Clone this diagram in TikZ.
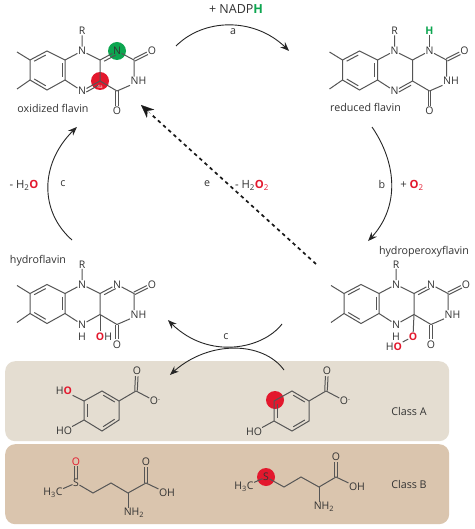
\documentclass[tikz,border=0pt]{standalone}
\usepackage{fontspec}
\setmainfont{Open Sans}
\usetikzlibrary{calc,arrows.meta,bending}
\definecolor{bondc}{HTML}{555555}
\definecolor{txtc}{HTML}{333333}
\definecolor{redc}{HTML}{E3182D}
\definecolor{greenc}{HTML}{0DA650}
\definecolor{panA}{HTML}{E4DDD1}
\definecolor{panB}{HTML}{DAC5AE}
\tikzset{
  x=1pt,y=-1pt,
  bond/.style={draw=bondc,line width=1pt},
  atom/.style={inner sep=0.4pt,font=\fontsize{10.5}{11}\selectfont,text=txtc},
  lbl/.style={inner sep=0pt,font=\fontsize{10.7}{12}\selectfont,text=txtc},
  biglbl/.style={inner sep=0pt,font=\fontsize{12.5}{14}\selectfont,text=txtc},
  midlbl/.style={inner sep=0pt,font=\fontsize{11.3}{13}\selectfont,text=txtc},
  cyc/.style={draw=black!85,line width=0.9pt,-{Stealth[length=9pt,width=7pt,bend]}},
  spot/.style={circle,minimum size=18pt,inner sep=0pt},
  panel/.style={rounded corners=10pt,draw=none}
}
\newcommand{\dbl}[3]{\draw[bond] ($(#1)!.16!(#2)!#3pt!90:(#2)$) -- ($(#1)!.84!(#2)!#3pt!90:(#2)$);}
\newcommand{\cdbl}[2]{\draw[bond] ($(#1)!.02!(#2)!1.3pt!90:(#2)$) -- ($(#1)!.74!(#2)!1.3pt!90:(#2)$);\draw[bond] ($(#1)!.02!(#2)!-1.3pt!90:(#2)$) -- ($(#1)!.74!(#2)!-1.3pt!90:(#2)$);}
\newcommand{\minussup}{\raisebox{3.5pt}{\fontsize{6}{6}\selectfont -}}
% common skeleton of the flavin ring system
\newcommand{\flavinbase}{
  \coordinate (m1) at (17,52); \coordinate (m2) at (17,89);
  \coordinate (a1) at (30,60); \coordinate (a2) at (47,51); \coordinate (a3) at (65,60);
  \coordinate (a4) at (65,80); \coordinate (a5) at (47,90); \coordinate (a6) at (30,80);
  \coordinate (c10a) at (100,60); \coordinate (c4a) at (100,81);
  \coordinate (c2) at (134,60); \coordinate (c4) at (117,91);
  \node[atom] (n10) at (82,51) {N};
  \node[atom] (r) at (82,31) {R};
  \node[atom] (n1) at (117,51) {N};
  \node[atom] (n5) at (82,91) {N};
  \node[atom,anchor=west] (n3) at (130,81) {NH};
  \node[atom] (o2) at (152,51) {O};
  \node[atom] (o4) at (117,111) {O};
  \draw[bond] (a1)--(a2)--(a3)--(a4)--(a5)--(a6)--cycle (m1)--(a1) (m2)--(a6);
  \draw[bond] (a3)--(n10)--(c10a)--(c4a) (a4)--(n5)--(c4a)--(c4);
  \draw[bond] (r)--(n10) (c10a)--(n1)--(c2)--(c2|-n3.north);
  \draw[bond] (c4)--(n3.south west);
  \dbl{a1}{a2}{-3}\dbl{a5}{a6}{-3}\dbl{a3}{a4}{-3}
  \cdbl{c2}{o2}\cdbl{c4}{o4}
}
\begin{document}
\begin{tikzpicture}
\useasboundingbox (0,0) rectangle (474,529);
\fill[white] (0,0) rectangle (474,529);
% panels
\node[panel,fill=panA,minimum width=444pt,minimum height=80pt,anchor=north west] (panela) at (5,361) {};
\node[panel,fill=panB,minimum width=444pt,minimum height=80pt,anchor=north west] (panelb) at (5,444) {};

% oxidized flavin
\begin{scope}[name prefix=ox-]
  \node[spot,fill=greenc] (gs) at (117,51) {};
  \node[spot,fill=redc] (rs) at (100,81) {};
  \flavinbase
  \dbl{c10a}{n1}{-3}
  \dbl{n5}{c4a}{-3}
  \node[inner sep=0pt,text=white,font=\fontsize{4.5}{5}\selectfont] (l4a) at (100,87) {4a};
  \node[lbl] (name) at (53,108) {oxidized flavin};
\end{scope}

% reduced flavin
\begin{scope}[name prefix=rd-,shift={(312.5,0)}]
  \flavinbase
  \dbl{n5}{c4a}{-3}
  \node[atom,text=greenc,font=\fontsize{10.5}{11}\selectfont\bfseries] (h) at (117,31) {H};
  \draw[bond] (h)--(n1);
  \node[lbl] (name) at (53,107) {reduced flavin};
\end{scope}

% hydroflavin
\begin{scope}[name prefix=hf-,shift={(0,233.5)}]
  \flavinbase
  \dbl{c10a}{n1}{-3}
  \node[atom] (h5) at (82,103) {H};
  \node[atom,inner sep=0.3pt] (oh) at (104,103) {\textcolor{redc}{\bfseries O}H};
  \draw[bond] (c4a)--(100,97);
  \node[lbl] (name) at (38,27.5) {hydroflavin};
\end{scope}

% hydroperoxyflavin
\begin{scope}[name prefix=hp-,shift={(314,233.5)}]
  \flavinbase
  \dbl{c10a}{n1}{-3}
  \node[atom] (h5) at (82,103) {H};
  \node[atom,text=redc,font=\fontsize{10.5}{11}\selectfont\bfseries] (o1) at (99,103) {O};
  \node[atom] (ho) at (80,113) {H\textcolor{redc}{\bfseries O}};
  \draw[bond] (c4a)--(o1);
  \draw[bond] (o1)--(ho.north east);
  \node[lbl] (name) at (110,18.5) {hydroperoxyflavin};
\end{scope}

% class A substrates
\begin{scope}[name prefix=sa-]
  \coordinate (r1) at (84,401); \coordinate (r2) at (102,391); \coordinate (r3) at (119,401);
  \coordinate (r4) at (119,420); \coordinate (r5) at (102,431); \coordinate (r6) at (84,420);
  \coordinate (cc) at (136,391);
  \node[atom] (o1) at (137,371) {O};
  \node[atom] (o2) at (155,401) {O\minussup};
  \node[atom] (ho1) at (64,391) {H\textcolor{redc}{\bfseries O}};
  \node[atom] (ho2) at (64,431) {HO};
  \draw[bond] (r1)--(r2)--(r3)--(r4)--(r5)--(r6)--cycle (r3)--(cc)--(o2);
  \draw[bond] (r1)--(ho1) (r6)--(ho2);
  \cdbl{cc}{o1}
  \dbl{r1}{r6}{3}\dbl{r2}{r3}{-3}\dbl{r4}{r5}{-3}
\end{scope}
\begin{scope}[name prefix=sb-]
  \node[spot,fill=redc] (rs) at (275,400) {};
  \coordinate (r1) at (274,401); \coordinate (r2) at (292,391); \coordinate (r3) at (309,401);
  \coordinate (r4) at (309,421); \coordinate (r5) at (292,431); \coordinate (r6) at (274,421);
  \coordinate (cc) at (326,391);
  \node[atom] (o1) at (327,371) {O};
  \node[atom] (o2) at (345,401) {O\minussup};
  \node[atom] (ho2) at (254,432) {HO};
  \draw[bond] (r1)--(r2)--(r3)--(r4)--(r5)--(r6)--cycle (r3)--(cc)--(o2);
  \draw[bond] (r6)--(ho2);
  \cdbl{cc}{o1}
  \dbl{r1}{r6}{3}\dbl{r2}{r3}{-3}\dbl{r4}{r5}{-3}
\end{scope}
\node[lbl] (classa) at (409,411) {Class A};

% class B substrates
\begin{scope}[name prefix=ma-]
  \node[atom] (ch3) at (53,493) {H\textsubscript{3}C};
  \node[atom] (s) at (76,483) {S};
  \node[atom,text=redc] (o) at (76,462) {O};
  \coordinate (c1) at (93,493); \coordinate (c2) at (111,483); \coordinate (c3) at (128,493); \coordinate (c4) at (146,483);
  \node[atom] (o2) at (146,462) {O};
  \node[atom] (oh) at (167,493) {OH};
  \node[atom] (nh) at (134,513) {NH\textsubscript{2}};
  \draw[bond] (ch3)--(s)--(c1)--(c2)--(c3)--(c4)--(oh);
  \draw[bond] (c3)--(c3|-nh.north);
  \cdbl{c4}{o2}
  \draw[bond] ([xshift=-1.3pt]s.north)--([xshift=-1.3pt]o.south) ([xshift=1.3pt]s.north)--([xshift=1.3pt]o.south);
\end{scope}
\begin{scope}[name prefix=mb-]
  \node[spot,fill=redc] (rs) at (266,477) {};
  \node[atom] (ch3) at (244,487) {H\textsubscript{3}C};
  \node[atom] (s) at (266,477) {S};
  \coordinate (c1) at (284,487); \coordinate (c2) at (301,477); \coordinate (c3) at (319,487); \coordinate (c4) at (336,477);
  \node[atom] (o2) at (336,457) {O};
  \node[atom] (oh) at (357,487) {OH};
  \node[atom] (nh) at (324,507) {NH\textsubscript{2}};
  \draw[bond] (ch3)--(s)--(c1)--(c2)--(c3)--(c4)--(oh);
  \draw[bond] (c3)--(c3|-nh.north);
  \cdbl{c4}{o2}
\end{scope}
\node[lbl] (classb) at (409,484) {Class B};

% cycle arrows
\coordinate (as) at (176,46); \coordinate (ae) at (289,51);
\coordinate (bs) at (372,127); \coordinate (be) at (368,241);
\coordinate (cs) at (72,240); \coordinate (ce) at (77,127);
\coordinate (es) at (316,264); \coordinate (ee) at (141,105); \coordinate (eb) at ($(ee)!13pt!(es)$);
\coordinate (d1s) at (282,324); \coordinate (d1e) at (168,320);
\coordinate (d2s) at (284,370); \coordinate (d2e) at (170,375);
\draw[cyc] (as) .. controls (205,17) and (258,17) .. (ae);
\draw[cyc] (bs) .. controls (398,165) and (400,210) .. (be);
\draw[cyc] (cs) .. controls (38,210) and (40,160) .. (ce);
\draw[line width=1.7pt,dash pattern=on 3.5pt off 3.5pt,black!90] (es) -- (eb);
\draw[line width=0.1pt,black!90,-{Stealth[length=13pt,width=11pt]}] (eb) -- (ee);
\draw[cyc] (d1s) .. controls (262,350) and (205,361) .. (d1e);
\draw[cyc] (d2s) .. controls (262,340) and (205,340) .. (d2e);

% labels
\node[biglbl] (nadph) at (236,9) {+ NADP\textcolor{greenc}{\bfseries H}};
\node[lbl] (la) at (233,32) {a};
\node[lbl] (lb) at (382,184) {b};
\node[midlbl] (lo2) at (412,185) {+ \textcolor{redc}{\bfseries O}\textcolor{redc}{\textsubscript{2}}};
\node[lbl] (lc) at (63,184) {c};
\node[midlbl] (lh2o) at (24,185) {- H\textsubscript{2}\textcolor{redc}{\bfseries O}};
\node[lbl] (le) at (207,184) {e};
\node[midlbl] (lh2o2) at (252,185) {- H\textsubscript{2}\textcolor{redc}{\bfseries O}\textcolor{redc}{\textsubscript{2}}};
\node[lbl] (lc2) at (226,337) {c};
\end{tikzpicture}
\end{document}
